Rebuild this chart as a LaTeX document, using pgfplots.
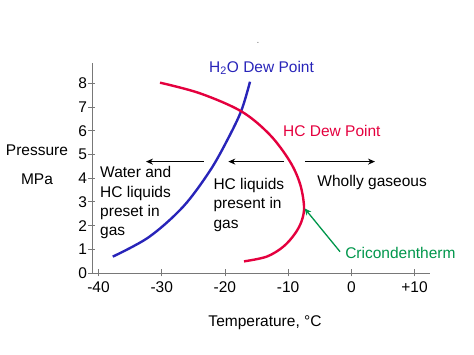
\documentclass[border=0pt]{standalone}
\usepackage{fontspec}
\setmainfont{Liberation Sans}
\usepackage{pgfplots}
\pgfplotsset{compat=1.18}
\usetikzlibrary{arrows.meta}
\definecolor{cblue}{RGB}{40,36,185}
\definecolor{cred}{RGB}{228,0,62}
\definecolor{cgreen}{RGB}{0,150,75}
\definecolor{axgray}{RGB}{120,120,120}
\begin{document}
\begin{tikzpicture}
\useasboundingbox (-92pt,-82pt) rectangle (382pt,273pt);
\begin{axis}[
  at={(0,0)}, anchor=south west,
  scale only axis, width=338pt, height=210pt,
  xmin=-41.03, xmax=12.45, ymin=0, ymax=8.86,
  axis lines=left, axis line style={axgray, line width=0.8pt, -},
  xtick={-40,-30,-20,-10,0,10},
  xticklabels={-40,-30,-20,-10,0,+10},
  ytick={0,1,2,3,4,5,6,7,8},
  yticklabels={0,1,2,3,4,5,6,7,8},
  tick align=center, major tick length=7pt,
  tick style={axgray, line width=0.8pt},
  tick label style={font=\fontsize{15.5}{18}\selectfont},
  xticklabel style={yshift=-2pt},
  yticklabel style={xshift=2pt},
  clip=false,
]
\addplot[cblue, line width=2.4pt, smooth, tension=0.55] coordinates {
 (-37.75,0.69) (-32.0,1.52) (-26.6,2.80) (-22.4,4.30) (-19.6,5.62) (-17.4,6.85) (-16.03,8.07)
};
\addplot[cred, line width=2.4pt, smooth, tension=0.55] coordinates {
 (-30.27,8.03) (-23.94,7.58) (-17.34,6.81) (-12.85,5.82) (-9.70,4.70) (-8.10,3.75) (-7.48,2.80) (-7.85,2.20) (-8.91,1.66) (-10.76,1.11) (-13.39,0.69) (-16.98,0.49)
};
\draw[black, line width=1.5pt, -{Stealth[length=7pt,width=6pt]}] (axis cs:-23.31,4.70) -- (axis cs:-32.49,4.70);
\draw[black, line width=1.5pt, -{Stealth[length=7pt,width=6pt]}] (axis cs:-10.65,4.70) -- (axis cs:-19.46,4.70);
\draw[black, line width=1.5pt, -{Stealth[length=7pt,width=6pt]}] (axis cs:-7.33,4.70) -- (axis cs:3.75,4.70);
\draw[cgreen, line width=1.3pt, -{Stealth[length=7pt,width=6pt]}] (axis cs:-1.79,0.90) -- (axis cs:-7.40,2.73);
\node[anchor=west, inner sep=0pt, text=cblue, font=\fontsize{15.5}{18}\selectfont] at (axis cs:-22.52,8.65) {H\textsubscript{2}O Dew Point};
\node[anchor=west, inner sep=0pt, text=cred, font=\fontsize{15.5}{18}\selectfont] at (axis cs:-10.81,6.0) {HC Dew Point};
\node[anchor=west, inner sep=0pt, text=black, font=\fontsize{15.5}{18}\selectfont] at (axis cs:-5.4,3.81) {Wholly gaseous};
\node[anchor=west, inner sep=0pt, align=left, font=\fontsize{15.5}{19.3}\selectfont] at (axis cs:-39.76,2.96) {Water and\\HC liquids\\preset in\\gas};
\node[anchor=west, inner sep=0pt, align=left, font=\fontsize{15.5}{19.3}\selectfont] at (axis cs:-21.83,2.88) {HC liquids\\present in\\gas};
\node[anchor=west, inner sep=0pt, text=cgreen, font=\fontsize{15.5}{18}\selectfont] at (axis cs:-0.99,0.86) {Cricondentherm};
\end{axis}
\node[font=\fontsize{15.5}{18}\selectfont] at (-55pt,123pt) {Pressure};
\node[font=\fontsize{15.5}{18}\selectfont] at (-55pt,93.7pt) {MPa};
\node[font=\fontsize{15.5}{18}\selectfont] at (173pt,-50pt) {Temperature, °C};
\node[font=\fontsize{10}{12}\selectfont, text=axgray] at (166pt,230pt) {.};
\end{tikzpicture}
\end{document}
